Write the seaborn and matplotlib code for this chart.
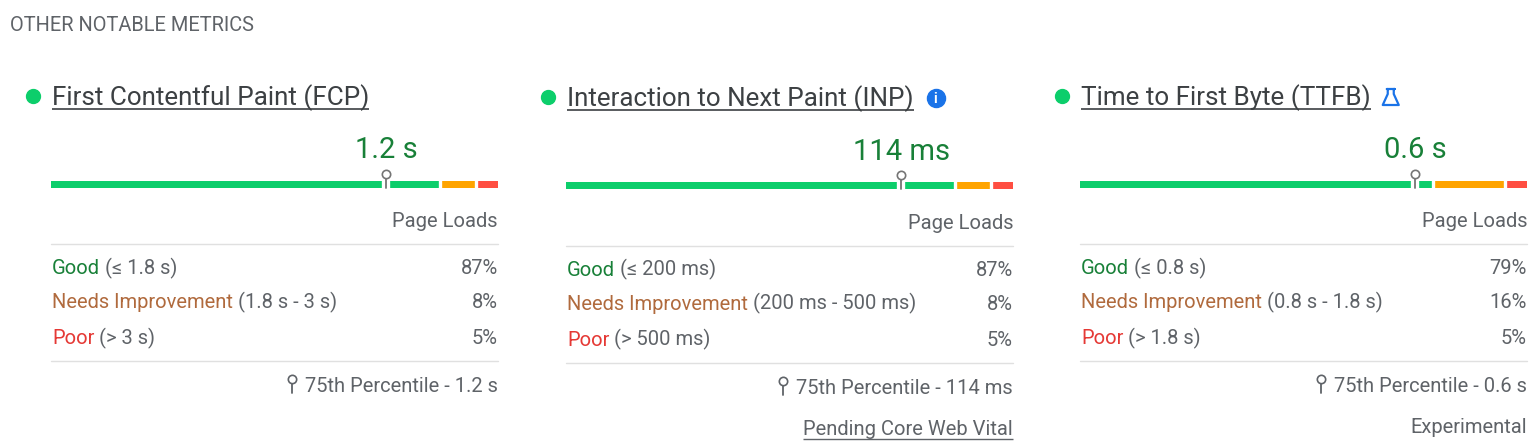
import numpy as np
import matplotlib
matplotlib.use("Agg")
import matplotlib.pyplot as plt
import seaborn as sns

# values
metric_names = ["First Contentful Paint (FCP)", "Interaction to Next Paint (INP)", "Time to First Byte (TTFB)"]
p75_values = ["1.2 s", "114 ms", "0.6 s"]
good_pct = [87, 87, 79]
ni_pct = [8, 8, 16]
poor_pct = [5, 5, 5]
good_ranges = ["(≤ 1.8 s)", "(≤ 200 ms)", "(≤ 0.8 s)"]
ni_ranges = ["(1.8 s - 3 s)", "(200 ms - 500 ms)", "(0.8 s - 1.8 s)"]
poor_ranges = ["(> 3 s)", "(> 500 ms)", "(> 1.8 s)"]
footers = ["", "Pending Core Web Vital", "Experimental"]
percentile = 75

sns.set_theme(style="white")
plt.rcParams["font.family"] = ["Roboto", "DejaVu Sans"]

GRAY = "#5f6368"
DARK = "#3c4043"
BLUE = "#1a73e8"
seg_colors = ["#0cce6b", "#ffa400", "#ff4e42"]
label_colors = ["#188038", "#b06a3d", "#e53935"]
FS = 14.5

fig = plt.figure(figsize=(15.36, 4.44), dpi=100)
bg = fig.add_axes([0, 0, 1, 1])
bg.set_xlim(0, 1536)
bg.set_ylim(444, 0)
bg.axis("off")

bg.text(10, 31, "OTHER NOTABLE METRICS", fontsize=14.4, color=GRAY, va="baseline")

lefts = [51, 566, 1080]
width = 447
dys = [0, 1.5, 0]
row_base = [274, 308, 344]

renderer = fig.canvas.get_renderer()


def underline(t, y, color, lw=1.2):
    bb = t.get_window_extent(renderer)
    bg.plot([bb.x0, bb.x1], [y, y], color=color, lw=lw, solid_capstyle="butt")


for i, name in enumerate(metric_names):
    L = lefts[i]
    R = L + width
    dy = dys[i]

    # title row
    bg.plot(L - 18, 96 + dy, "o", ms=10, color=seg_colors[0])
    t = bg.text(L + 1, 105 + dy, name, fontsize=18.7, color=DARK, va="baseline")
    underline(t, 109 + dy, DARK)
    tx1 = t.get_window_extent(renderer).x1
    if i == 1:
        bg.plot(tx1 + 22, 97 + dy, "o", ms=13, color=BLUE)
        bg.text(tx1 + 22, 97.5 + dy, "i", fontsize=10, fontweight="bold", color="white",
                ha="center", va="center")
    if i == 2:
        cx, cy = tx1 + 20, 97 + dy
        fx = np.array([-4, 4, 3, 3, 8, -8, -3, -3]) + cx
        fy = np.array([-8, -8, -8, -3, 8, 8, -3, -8]) + cy
        bg.plot(fx, fy, color=BLUE, lw=1.6)

    # distribution bar
    ax = fig.add_axes([L / 1536, 1 - (195 + dy) / 444, width / 1536, 30 / 444])
    ax.set_xlim(0, 100)
    ax.set_ylim(30, 0)
    ax.axis("off")
    segs = [good_pct[i], ni_pct[i], poor_pct[i]]
    starts = np.concatenate([[0], np.cumsum(segs)[:-1]])
    ax.barh([19.5] * 3, segs, left=starts, height=7, color=seg_colors,
            linewidth=0, zorder=2)
    for b in starts[1:]:
        ax.plot([b, b], [14, 25], color="white", lw=2.4, zorder=3, solid_capstyle="butt")
    ax.plot([percentile, percentile], [14, 25], color="white", lw=6, zorder=3,
            solid_capstyle="butt")
    ax.plot([percentile, percentile], [10, 23], color="#757575", lw=1.3, zorder=4)
    ax.plot(percentile, 8.5, "o", ms=6, mfc="white", mec="#757575", mew=1.2, zorder=5)

    # p75 value above the marker
    xm = L + width * percentile / 100
    bg.text(xm, 158 + dy, p75_values[i], fontsize=21, color=label_colors[0],
            ha="center", va="baseline")

    bg.text(R, 227 + dy, "Page Loads", fontsize=FS, color=GRAY, ha="right", va="baseline")
    bg.plot([L, R], [244 + dy, 244 + dy], color="#e0e0e0", lw=1)

    rows = [("Good", good_ranges[i], good_pct[i]),
            ("Needs Improvement", ni_ranges[i], ni_pct[i]),
            ("Poor", poor_ranges[i], poor_pct[i])]
    for k, (lab, rng, pct) in enumerate(rows):
        yb = row_base[k] + dy
        lt = bg.text(L + 1, yb, lab, fontsize=FS, color=label_colors[k], va="baseline")
        x1 = lt.get_window_extent(renderer).x1
        bg.text(x1 + 5, yb, rng, fontsize=FS, color=GRAY, va="baseline")
        bg.text(R, yb, f"{pct}%", fontsize=FS, color=GRAY, ha="right", va="baseline")

    bg.plot([L, R], [361 + dy, 361 + dy], color="#e0e0e0", lw=1)

    pt = bg.text(R, 392 + dy, f"75th Percentile - {p75_values[i]}", fontsize=FS,
                 color=GRAY, ha="right", va="baseline")
    px = pt.get_window_extent(renderer).x0 - 13
    bg.plot([px, px], [380 + dy, 393 + dy], color=GRAY, lw=1.3)
    bg.plot(px, 379 + dy, "o", ms=6, mfc="white", mec=GRAY, mew=1.2)

    if footers[i]:
        ft = bg.text(R, 433 + dy, footers[i], fontsize=FS, color=GRAY,
                     ha="right", va="baseline")
        if i == 1:
            underline(ft, 437 + dy, GRAY, lw=1)

fig.savefig("out.png", dpi=100, facecolor="white")
